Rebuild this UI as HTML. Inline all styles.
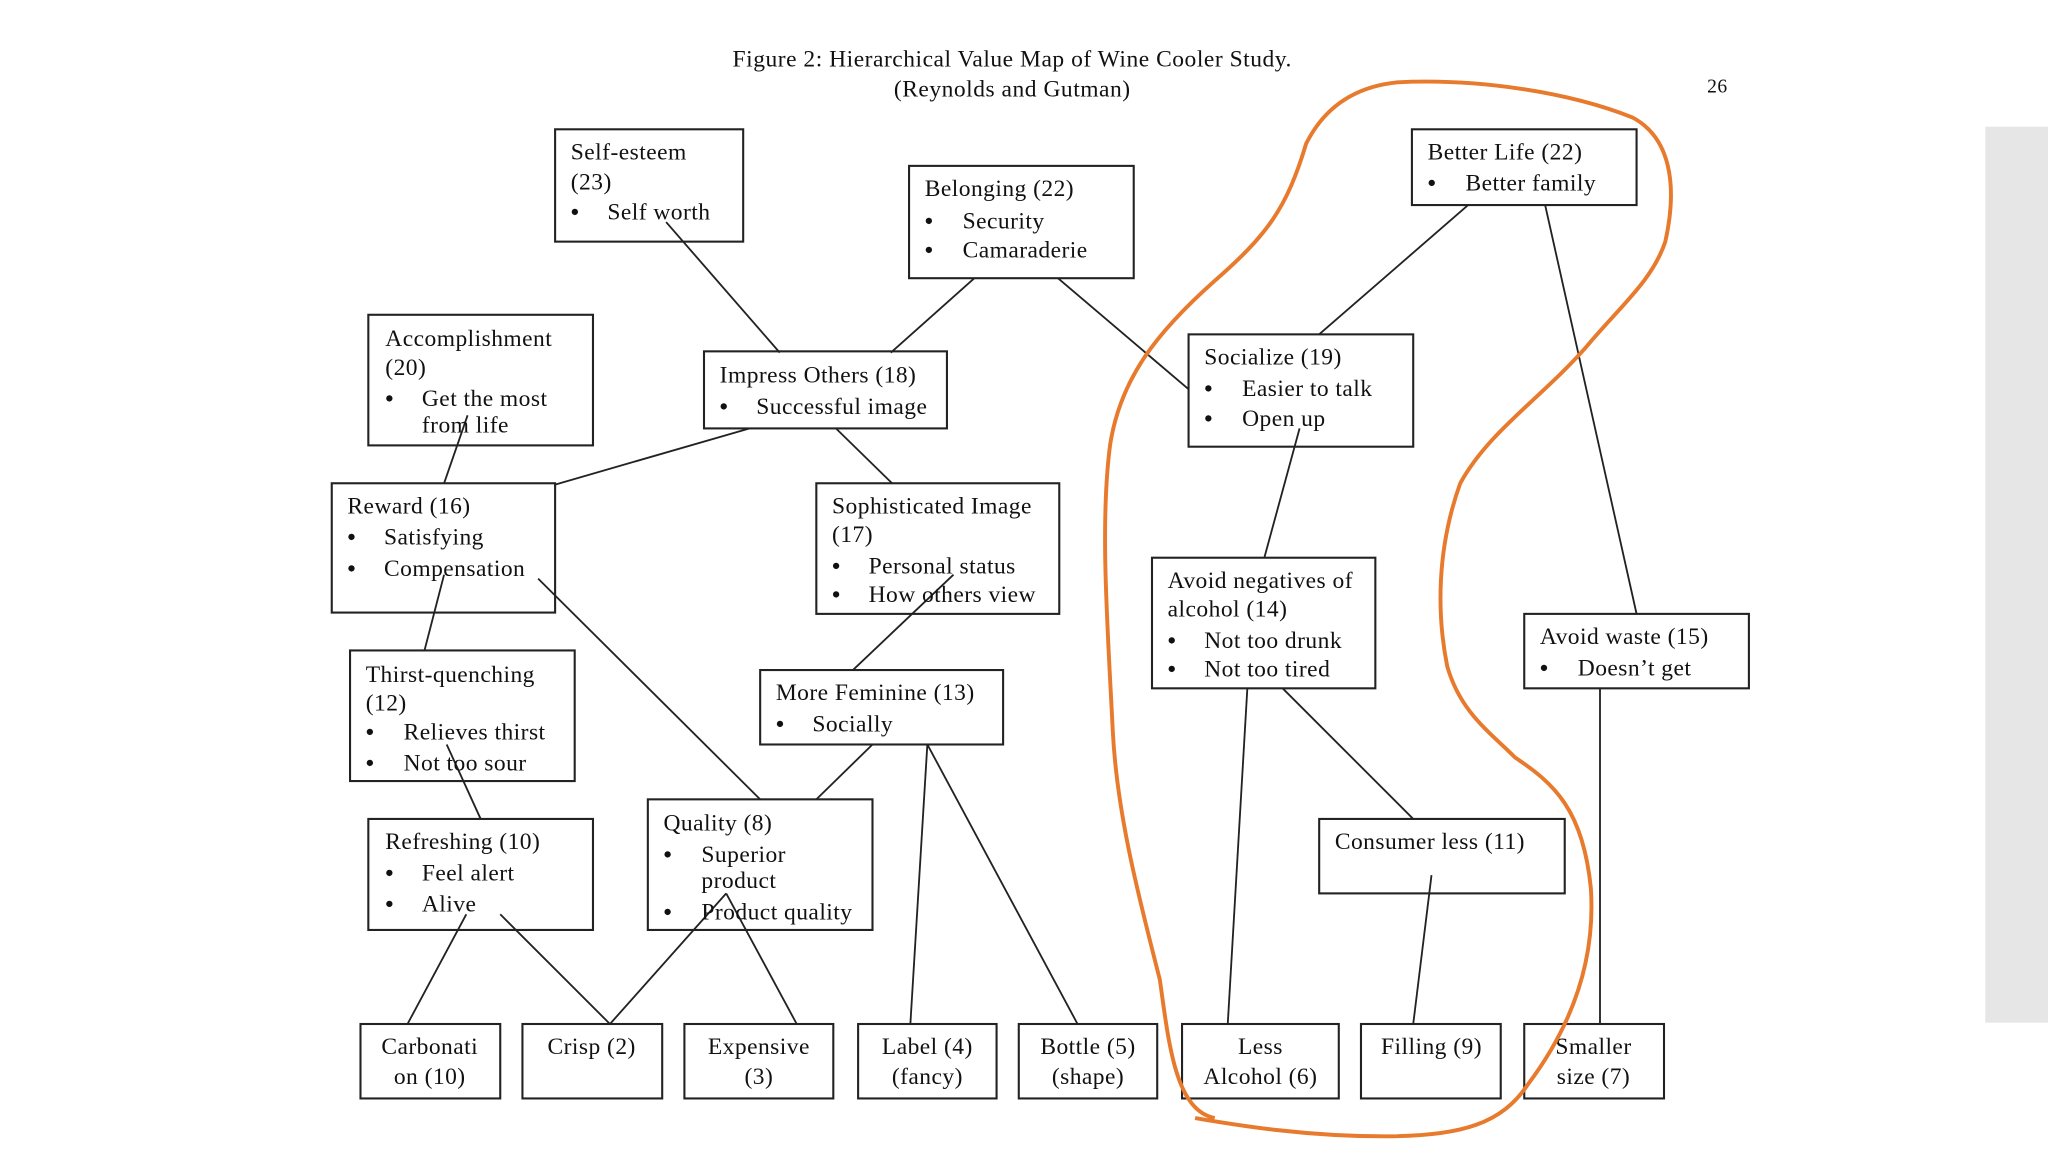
<!DOCTYPE html>
<html><head><meta charset="utf-8"><style>
html,body{margin:0;padding:0;background:#fff;}
svg{display:block;}
text{font-family:"Liberation Serif",serif;font-size:18px;letter-spacing:0.35px;fill:#111;}
.bl{font-weight:bold;}
.b rect{fill:#fff;stroke:#222;stroke-width:1.6;}
line{stroke:#222;stroke-width:1.4;}
</style></head><body>
<svg width="2048" height="1152" viewBox="0 0 1568 882" xmlns="http://www.w3.org/2000/svg">
<rect x="0" y="0" width="1568" height="882" fill="#fff"/>
<rect x="1520" y="97" width="48" height="686" fill="#e6e6e6"/>
<text x="775" y="51" text-anchor="middle" style="letter-spacing:0.4px">Figure 2: Hierarchical Value Map of Wine Cooler Study.</text>
<text x="775" y="74" text-anchor="middle" style="letter-spacing:0.4px">(Reynolds and Gutman)</text>
<text x="1307" y="71" style="font-size:15px">26</text>

<g class="b">
<rect x="425" y="99" width="144" height="86"/>
<rect x="696" y="127" width="172" height="86"/>
<rect x="1081" y="99" width="172" height="58"/>
<rect x="282" y="241" width="172" height="100"/>
<rect x="539" y="269" width="186" height="59"/>
<rect x="910" y="256" width="172" height="86"/>
<rect x="254" y="370" width="171" height="99"/>
<rect x="625" y="370" width="186" height="100"/>
<rect x="882" y="427" width="171" height="100"/>
<rect x="1167" y="470" width="172" height="57"/>
<rect x="268" y="498" width="172" height="100"/>
<rect x="582" y="513" width="186" height="57"/>
<rect x="496" y="612" width="172" height="100"/>
<rect x="282" y="627" width="172" height="85"/>
<rect x="1010" y="627" width="188" height="57"/>
<rect x="276" y="784" width="107" height="57"/>
<rect x="400" y="784" width="107" height="57"/>
<rect x="524" y="784" width="114" height="57"/>
<rect x="657" y="784" width="106" height="57"/>
<rect x="780" y="784" width="106" height="57"/>
<rect x="905" y="784" width="120" height="57"/>
<rect x="1042" y="784" width="107" height="57"/>
<rect x="1167" y="784" width="107" height="57"/>
</g>

<g>
<line x1="510" y1="170" x2="597" y2="270"/>
<line x1="746" y1="213" x2="682" y2="270"/>
<line x1="810" y1="213" x2="910" y2="298"/>
<line x1="1124" y1="157" x2="1010" y2="256"/>
<line x1="1183" y1="157" x2="1253" y2="470"/>
<line x1="574" y1="328" x2="425" y2="371"/>
<line x1="640" y1="328" x2="683" y2="370"/>
<line x1="358" y1="318" x2="340" y2="370"/>
<line x1="995" y1="328" x2="968" y2="427"/>
<line x1="340" y1="440" x2="325" y2="498"/>
<line x1="412" y1="443" x2="582" y2="612"/>
<line x1="730" y1="440" x2="653" y2="513"/>
<line x1="342" y1="570" x2="368" y2="627"/>
<line x1="668" y1="570" x2="625" y2="612"/>
<line x1="710" y1="570" x2="697" y2="784"/>
<line x1="710" y1="570" x2="825" y2="784"/>
<line x1="955" y1="527" x2="940" y2="784"/>
<line x1="982" y1="527" x2="1082" y2="627"/>
<line x1="1096" y1="670" x2="1082" y2="784"/>
<line x1="1225" y1="527" x2="1225" y2="784"/>
<line x1="357" y1="700" x2="312" y2="784"/>
<line x1="383" y1="700" x2="467" y2="784"/>
<line x1="556" y1="684" x2="467" y2="784"/>
<line x1="556" y1="684" x2="610" y2="784"/>
</g>

<g>
<text x="437" y="122">Self-esteem</text><text x="437" y="145">(23)</text>
<text class="bl" x="437" y="168">•</text><text x="465" y="168">Self worth</text>
<text x="708" y="150">Belonging (22)</text>
<text class="bl" x="708" y="175">•</text><text x="737" y="175">Security</text>
<text class="bl" x="708" y="197">•</text><text x="737" y="197">Camaraderie</text>
<text x="1093" y="122">Better Life (22)</text>
<text class="bl" x="1093" y="146">•</text><text x="1122" y="146">Better family</text>
<text x="295" y="265">Accomplishment</text><text x="295" y="287">(20)</text>
<text class="bl" x="295" y="311">•</text><text x="323" y="311">Get the most</text><text x="323" y="331">from life</text>
<text x="551" y="293">Impress Others (18)</text>
<text class="bl" x="551" y="317">•</text><text x="579" y="317">Successful image</text>
<text x="922" y="279">Socialize (19)</text>
<text class="bl" x="922" y="303">•</text><text x="951" y="303">Easier to talk</text>
<text class="bl" x="922" y="326">•</text><text x="951" y="326">Open up</text>
<text x="266" y="393">Reward (16)</text>
<text class="bl" x="266" y="417">•</text><text x="294" y="417">Satisfying</text>
<text class="bl" x="266" y="441">•</text><text x="294" y="441">Compensation</text>
<text x="637" y="393">Sophisticated Image</text><text x="637" y="415">(17)</text>
<text class="bl" x="637" y="439">•</text><text x="665" y="439">Personal status</text>
<text class="bl" x="637" y="461">•</text><text x="665" y="461">How others view</text>
<text x="894" y="450">Avoid negatives of</text><text x="894" y="472">alcohol (14)</text>
<text class="bl" x="894" y="496">•</text><text x="922" y="496">Not too drunk</text>
<text class="bl" x="894" y="518">•</text><text x="922" y="518">Not too tired</text>
<text x="1179" y="493">Avoid waste (15)</text>
<text class="bl" x="1179" y="517">•</text><text x="1208" y="517">Doesn’t get</text>
<text x="280" y="522">Thirst-quenching</text><text x="280" y="544">(12)</text>
<text class="bl" x="280" y="566">•</text><text x="309" y="566">Relieves thirst</text>
<text class="bl" x="280" y="590">•</text><text x="309" y="590">Not too sour</text>
<text x="594" y="536">More Feminine (13)</text>
<text class="bl" x="594" y="560">•</text><text x="622" y="560">Socially</text>
<text x="508" y="636">Quality (8)</text>
<text class="bl" x="508" y="660">•</text><text x="537" y="660">Superior</text><text x="537" y="680">product</text>
<text class="bl" x="508" y="704">•</text><text x="537" y="704">Product quality</text>
<text x="295" y="650">Refreshing (10)</text>
<text class="bl" x="295" y="674">•</text><text x="323" y="674">Feel alert</text>
<text class="bl" x="295" y="698">•</text><text x="323" y="698">Alive</text>
<text x="1022" y="650">Consumer less (11)</text>
</g>
<g text-anchor="middle">
<text x="329" y="807">Carbonati</text><text x="329" y="830">on (10)</text>
<text x="453" y="807">Crisp (2)</text>
<text x="581" y="807">Expensive</text><text x="581" y="830">(3)</text>
<text x="710" y="807">Label (4)</text><text x="710" y="830">(fancy)</text>
<text x="833" y="807">Bottle (5)</text><text x="833" y="830">(shape)</text>
<text x="965" y="807">Less</text><text x="965" y="830">Alcohol (6)</text>
<text x="1096" y="807">Filling (9)</text>
<text x="1220" y="807">Smaller</text><text x="1220" y="830">size (7)</text>
</g>

<path d="M930,856 C900,850 895,800 888,750 C870,680 855,620 852,560 C848,480 842,400 850,340 C858,290 885,255 930,215 C970,180 985,160 1000,110 C1015,80 1040,66 1070,63 C1130,60 1200,70 1250,90 C1278,105 1285,140 1275,185 C1265,215 1240,235 1215,265 C1180,305 1140,330 1118,370 C1100,420 1100,470 1108,510 C1118,545 1140,560 1160,580 C1190,600 1212,620 1218,680 C1222,740 1200,790 1170,830 C1150,860 1120,870 1060,870 C1000,870 950,862 915,856" fill="none" stroke="#e77a2c" stroke-width="3"/>
</svg>
</body></html>
